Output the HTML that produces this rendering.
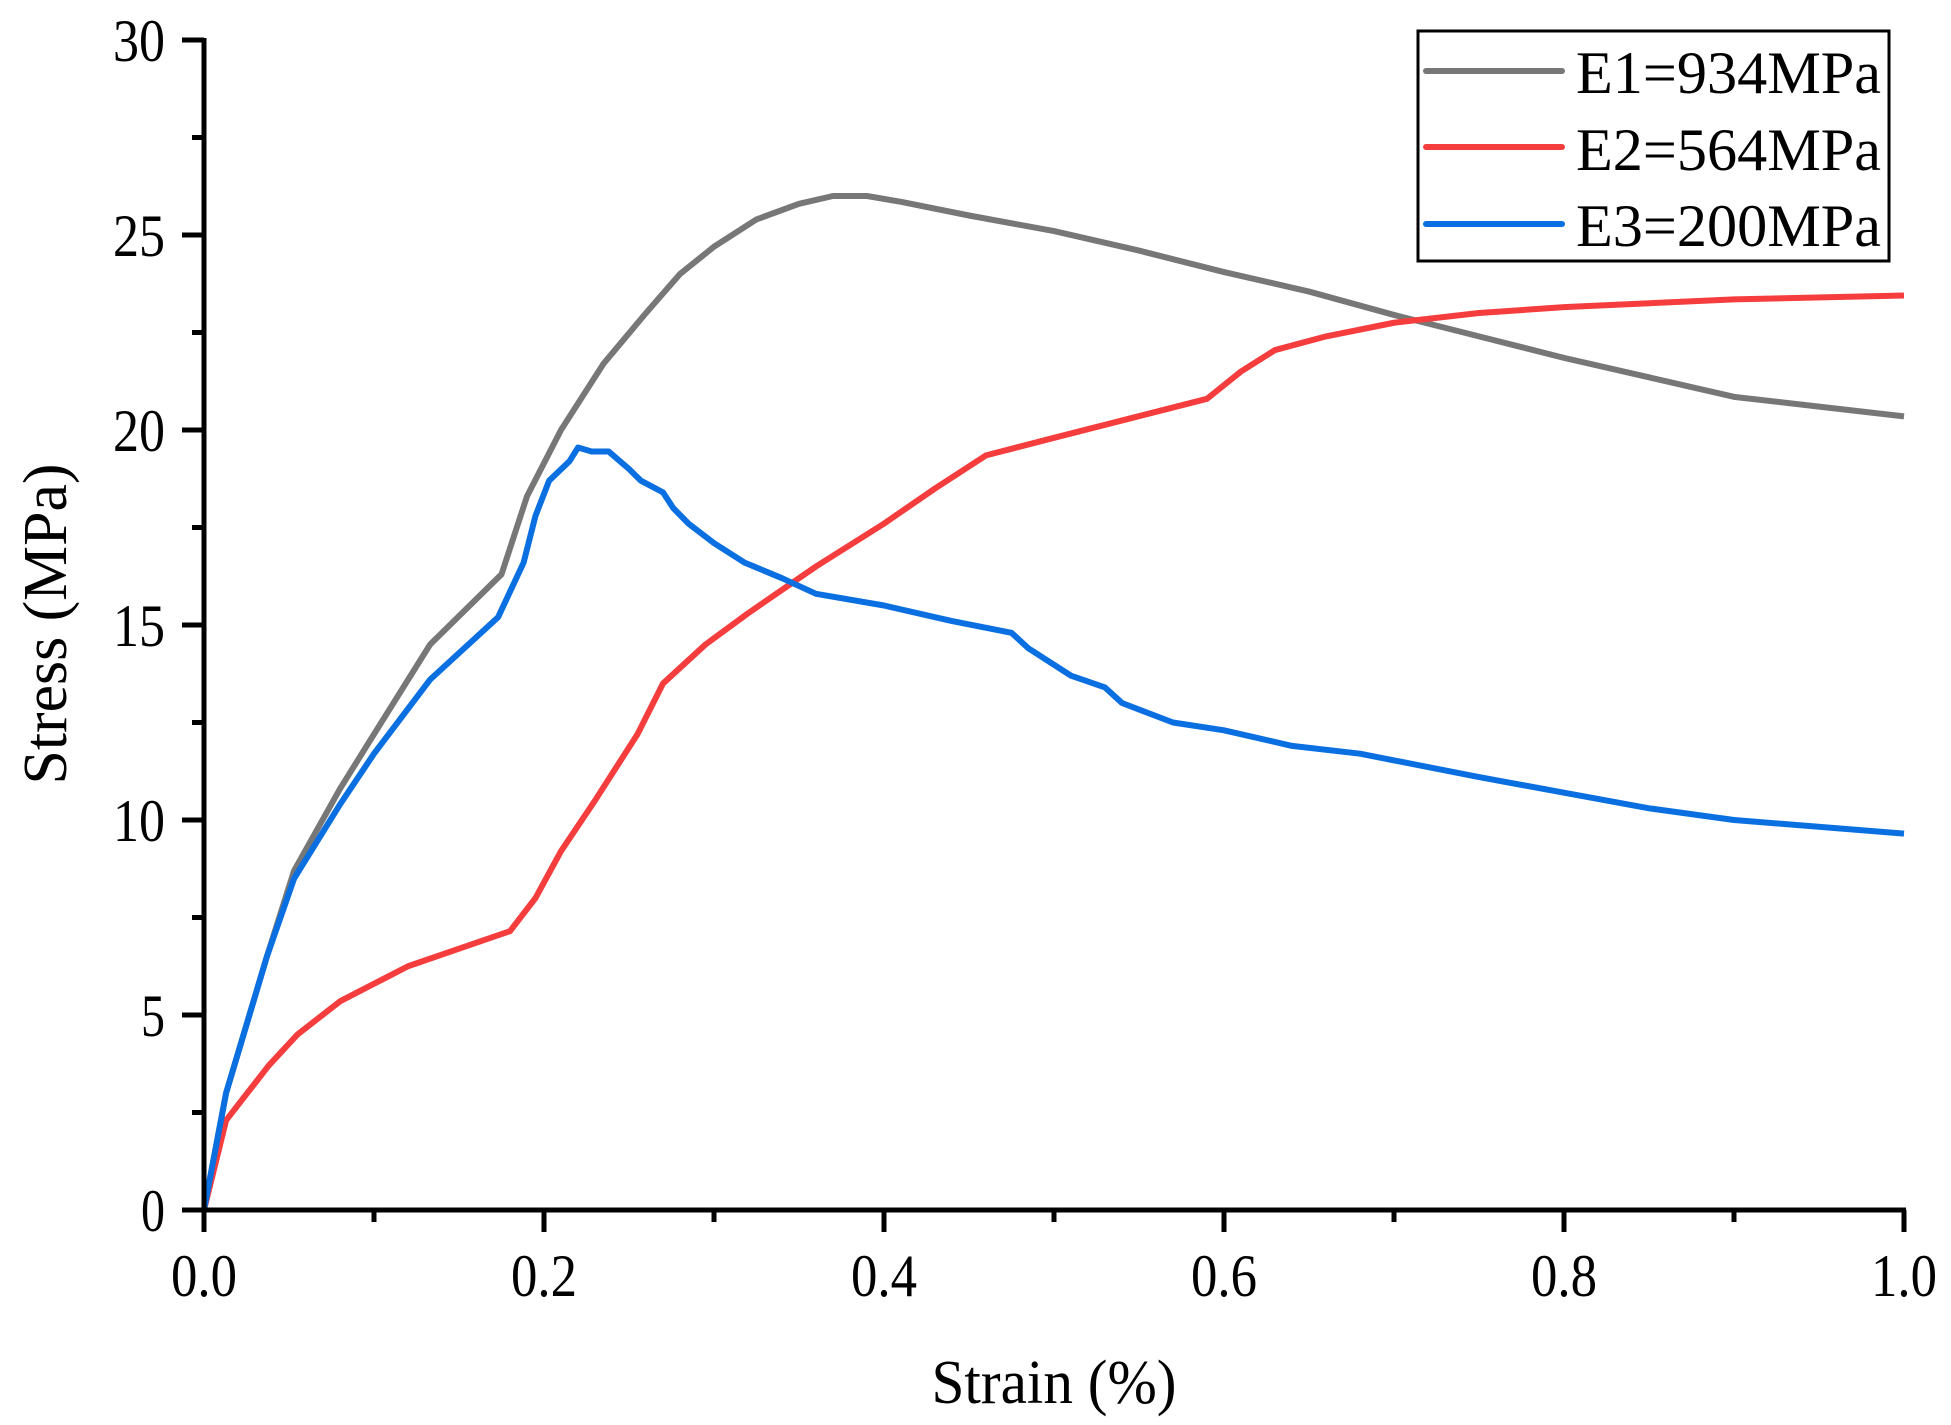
<!DOCTYPE html>
<html><head><meta charset="utf-8"><style>html,body{margin:0;padding:0;background:#fff}svg{display:block}</style></head>
<body>
<svg width="1951" height="1425" viewBox="0 0 1951 1425" xmlns="http://www.w3.org/2000/svg" font-family="Liberation Serif, serif">
<g transform="translate(204,1210) scale(1700,-39)" fill="none" stroke-width="6" stroke-linejoin="round">
<polyline vector-effect="non-scaling-stroke" stroke="#777777" points="0,0 0.013,3 0.037,6.5 0.053,8.7 0.08,10.8 0.1,12.2 0.133,14.5 0.175,16.3 0.19,18.3 0.21,20 0.235,21.7 0.26,23 0.28,24 0.3,24.7 0.325,25.4 0.35,25.8 0.37,26 0.39,26 0.41,25.85 0.45,25.5 0.5,25.1 0.55,24.6 0.6,24.05 0.65,23.55 0.7,22.95 0.75,22.4 0.8,21.85 0.85,21.35 0.9,20.85 0.95,20.6 1,20.35"/>
<polyline vector-effect="non-scaling-stroke" stroke="#f53d3d" points="0,0 0.013,2.3 0.038,3.7 0.055,4.5 0.08,5.35 0.12,6.25 0.15,6.7 0.18,7.15 0.195,8 0.21,9.2 0.23,10.5 0.255,12.2 0.27,13.5 0.295,14.5 0.32,15.3 0.36,16.5 0.4,17.6 0.43,18.5 0.46,19.35 0.5,19.8 0.59,20.8 0.61,21.5 0.63,22.05 0.66,22.4 0.7,22.75 0.75,23 0.8,23.15 0.9,23.35 1,23.45"/>
<polyline vector-effect="non-scaling-stroke" stroke="#0a6fe0" points="0,0 0.013,3 0.037,6.5 0.053,8.5 0.08,10.4 0.1,11.7 0.133,13.6 0.173,15.2 0.188,16.6 0.195,17.8 0.203,18.7 0.215,19.2 0.22,19.55 0.228,19.45 0.238,19.45 0.25,19.0 0.257,18.7 0.27,18.4 0.276,18.0 0.285,17.6 0.3,17.1 0.318,16.6 0.34,16.2 0.36,15.8 0.4,15.5 0.44,15.1 0.475,14.8 0.485,14.4 0.51,13.7 0.53,13.4 0.54,13.0 0.57,12.5 0.6,12.3 0.64,11.9 0.68,11.7 0.75,11.1 0.8,10.7 0.85,10.3 0.9,10.0 1,9.65"/>
</g>
<g stroke="#000" stroke-width="5" fill="none">
<path d="M204,38 V1212 M202,1210 H1906"/>
<path d="M204,1210 v22 M544,1210 v22 M884,1210 v22 M1224,1210 v22 M1564,1210 v22 M1904,1210 v22"/>
<path d="M374,1210 v12 M714,1210 v12 M1054,1210 v12 M1394,1210 v12 M1734,1210 v12"/>
<path d="M204,1210 h-22 M204,1015 h-22 M204,820 h-22 M204,625 h-22 M204,430 h-22 M204,235 h-22 M204,40 h-22"/>
<path d="M204,1112.5 h-12 M204,917.5 h-12 M204,722.5 h-12 M204,527.5 h-12 M204,332.5 h-12 M204,137.5 h-12"/>
</g>
<g font-size="60" text-anchor="end" fill="#000">
<text x="165" y="1231" textLength="24" lengthAdjust="spacingAndGlyphs">0</text>
<text x="165" y="1036" textLength="24" lengthAdjust="spacingAndGlyphs">5</text>
<text x="165" y="841" textLength="52" lengthAdjust="spacingAndGlyphs">10</text>
<text x="165" y="646" textLength="52" lengthAdjust="spacingAndGlyphs">15</text>
<text x="165" y="451" textLength="52" lengthAdjust="spacingAndGlyphs">20</text>
<text x="165" y="256" textLength="52" lengthAdjust="spacingAndGlyphs">25</text>
<text x="165" y="61" textLength="52" lengthAdjust="spacingAndGlyphs">30</text>
</g>
<g font-size="60" text-anchor="middle" fill="#000">
<text x="204" y="1296" textLength="66" lengthAdjust="spacingAndGlyphs">0.0</text>
<text x="544" y="1296" textLength="66" lengthAdjust="spacingAndGlyphs">0.2</text>
<text x="884" y="1296" textLength="66" lengthAdjust="spacingAndGlyphs">0.4</text>
<text x="1224" y="1296" textLength="66" lengthAdjust="spacingAndGlyphs">0.6</text>
<text x="1564" y="1296" textLength="66" lengthAdjust="spacingAndGlyphs">0.8</text>
<text x="1904" y="1296" textLength="66" lengthAdjust="spacingAndGlyphs">1.0</text>
<text x="1054" y="1403" font-size="62" textLength="245" lengthAdjust="spacingAndGlyphs">Strain (%)</text>
<text transform="translate(66,624) rotate(-90)" font-size="62" textLength="321" lengthAdjust="spacingAndGlyphs">Stress (MPa)</text>
</g>
<rect x="1418" y="31" width="471" height="230" fill="#fff" stroke="#000" stroke-width="3"/>
<g stroke-width="6" stroke-linecap="round">
<line x1="1426" y1="71" x2="1562" y2="71" stroke="#777777"/>
<line x1="1426" y1="147" x2="1562" y2="147" stroke="#f53d3d"/>
<line x1="1426" y1="224" x2="1562" y2="224" stroke="#0a6fe0"/>
</g>
<g font-size="60" fill="#000">
<text x="1576" y="93" textLength="305" lengthAdjust="spacingAndGlyphs">E1=934MPa</text>
<text x="1576" y="170" textLength="305" lengthAdjust="spacingAndGlyphs">E2=564MPa</text>
<text x="1576" y="246" textLength="305" lengthAdjust="spacingAndGlyphs">E3=200MPa</text>
</g>
</svg>
</body></html>
